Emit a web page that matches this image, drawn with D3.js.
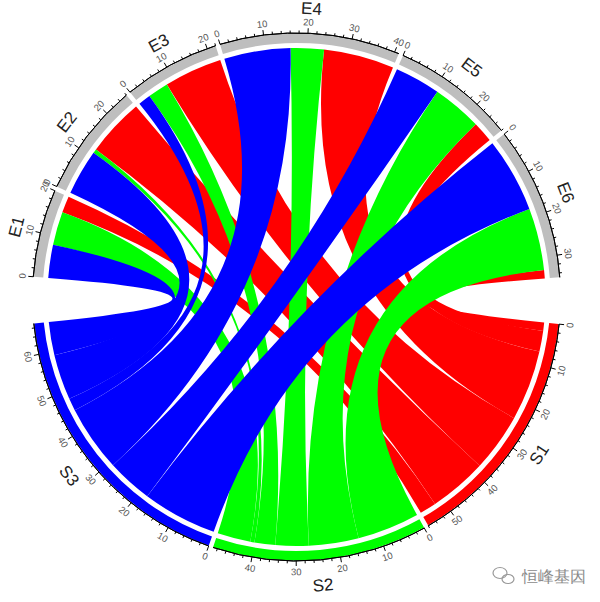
<!DOCTYPE html>
<html>
<head>
<meta charset="utf-8">
<script src="https://cdn.jsdelivr.net/npm/d3@7"></script>
<style>
body { margin: 0; background: #fff; }
text { font-family: "Liberation Sans", Arial, sans-serif; }
</style>
</head>
<body>
<div id="chart"></div>
<script>
// rows (top half) and columns (bottom half)
const rowNames = ["E1", "E2", "E3", "E4", "E5", "E6"];
const colNames = ["S1", "S2", "S3"];
const colColors = ["#ff0000", "#00ff00", "#0000ff"];
const rowColor = "#bebebe";

// link widths, one value per row E1..E6
const toS1 = [4, 14, 14, 17, 5, 2];
const toS2 = [8, 1, 5, 8, 12, 15];
const toS3 = [8, 11, 3, 16, 11, 18];

const width = 600, height = 602;
const cx = 296.5, cy = 297;
const rLink = 249, rTrackIn = 254, rTrackOut = 263.5, rAxis = 264;

const matrix = rowNames.map((d, i) => [toS1[i], toS2[i], toS3[i]]);
const rowSize = matrix.map(r => d3.sum(r));
const colSize = colNames.map((d, j) => d3.sum(matrix, r => r[j]));
const total = d3.sum(rowSize);

// layout in degrees, clockwise from 12 o'clock (d3 convention)
const unit = 0.967, gap = 1;
const bigGap = (360 - 2 * total * unit - 7 * gap) / 2;
const startDeg = 274.4;
const rad = Math.PI / 180;

const sectors = [];
let pos = startDeg;
rowNames.forEach((name, i) => {
	const s = pos, e = pos + rowSize[i] * unit;
	sectors.push({ name, size: rowSize[i], start: s, end: e, color: rowColor,
		scale: d3.scaleLinear().domain([0, rowSize[i]]).range([s * rad, e * rad]) });
	pos = e + (i < rowNames.length - 1 ? gap : bigGap);
});
colNames.forEach((name, j) => {
	const s = pos, e = pos + colSize[j] * unit;
	sectors.push({ name, size: colSize[j], start: s, end: e, color: colColors[j],
		scale: d3.scaleLinear().domain([0, colSize[j]]).range([s * rad, e * rad]) });
	pos = e + gap;
});
const rowSec = sectors.slice(0, 6), colSec = sectors.slice(6);

// link ends: rows take S3, S2, S1 ; columns take E6 ... E1
const rowOff = matrix.map(() => 0), colOff = colNames.map(() => 0);
const ends = {};
rowNames.forEach((d, i) => {
	[2, 1, 0].forEach(j => {
		ends[i + "-" + j] = { s0: rowOff[i], s1: rowOff[i] + matrix[i][j] };
		rowOff[i] += matrix[i][j];
	});
});
colNames.forEach((d, j) => {
	[5, 4, 3, 2, 1, 0].forEach(i => {
		ends[i + "-" + j].t0 = colOff[j];
		ends[i + "-" + j].t1 = colOff[j] + matrix[i][j];
		colOff[j] += matrix[i][j];
	});
});

const links = [];
rowNames.forEach((d, i) => {
	colNames.forEach((c, j) => {
		if (!matrix[i][j]) return;
		const e = ends[i + "-" + j];
		links.push({
			color: colColors[j],
			source: { startAngle: rowSec[i].scale(e.s0), endAngle: rowSec[i].scale(e.s1), radius: rLink },
			target: { startAngle: colSec[j].scale(e.t0), endAngle: colSec[j].scale(e.t1), radius: rLink }
		});
	});
});

const svg = d3.select("#chart").append("svg")
	.attr("width", width).attr("height", height);
const g = svg.append("g").attr("transform", `translate(${cx},${cy})`);

// links
const ribbon = d3.ribbon();
g.append("g").selectAll("path").data(links).enter().append("path")
	.attr("d", ribbon)
	.attr("fill", d => d.color);

// tracks
const trackArc = d3.arc().innerRadius(rTrackIn).outerRadius(rTrackOut);
g.append("g").selectAll("path").data(sectors).enter().append("path")
	.attr("d", d => trackArc({ startAngle: d.start * rad, endAngle: d.end * rad }))
	.attr("fill", d => d.color);

// axes
const lineArc = d3.arc().innerRadius(rAxis).outerRadius(rAxis);
const px = (r, a) => r * Math.sin(a), py = (r, a) => -r * Math.cos(a);
function facing(a) {
	let deg = ((a / rad) % 360 + 360) % 360;
	return deg > 90 && deg < 270 ? deg - 180 : deg;
}

sectors.forEach(sec => {
	const ax = g.append("g");
	ax.append("path")
		.attr("d", lineArc({ startAngle: sec.start * rad, endAngle: sec.end * rad }))
		.attr("fill", "none").attr("stroke", "#000").attr("stroke-width", 1);
	const ticks = d3.range(0, sec.size + 0.001, 2);
	ticks.forEach(t => {
		const a = sec.scale(t), major = t % 10 === 0, len = major ? 5 : 2.5;
		ax.append("line")
			.attr("x1", px(rAxis, a)).attr("y1", py(rAxis, a))
			.attr("x2", px(rAxis + len, a)).attr("y2", py(rAxis + len, a))
			.attr("stroke", "#000").attr("stroke-width", 1);
		if (major) {
			ax.append("text")
				.attr("transform", `translate(${px(rAxis + 11, a)},${py(rAxis + 11, a)}) rotate(${facing(a)})`)
				.attr("text-anchor", "middle").attr("dy", "0.35em")
				.attr("font-size", 9.5).attr("fill", "#555")
				.text(t);
		}
	});
	const mid = (sec.start + sec.end) / 2 * rad;
	ax.append("text")
		.attr("transform", `translate(${px(289, mid)},${py(289, mid)}) rotate(${facing(mid)})`)
		.attr("text-anchor", "middle").attr("dy", "0.35em")
		.attr("font-size", 17).attr("fill", "#222")
		.text(sec.name);
});

// watermark
const wm = svg.append("g").attr("fill", "none").attr("stroke", "#999").attr("stroke-width", 1.2);
wm.append("ellipse").attr("cx", 500).attr("cy", 573).attr("rx", 7).attr("ry", 5.5);
wm.append("ellipse").attr("cx", 508).attr("cy", 579).attr("rx", 6).attr("ry", 4.5);
svg.append("text").attr("x", 522).attr("y", 582)
	.attr("font-size", 16).attr("fill", "#8a8a8a")
	.attr("font-family", "Noto Sans CJK SC")
	.text("恒峰基因");
</script>
</body>
</html>
